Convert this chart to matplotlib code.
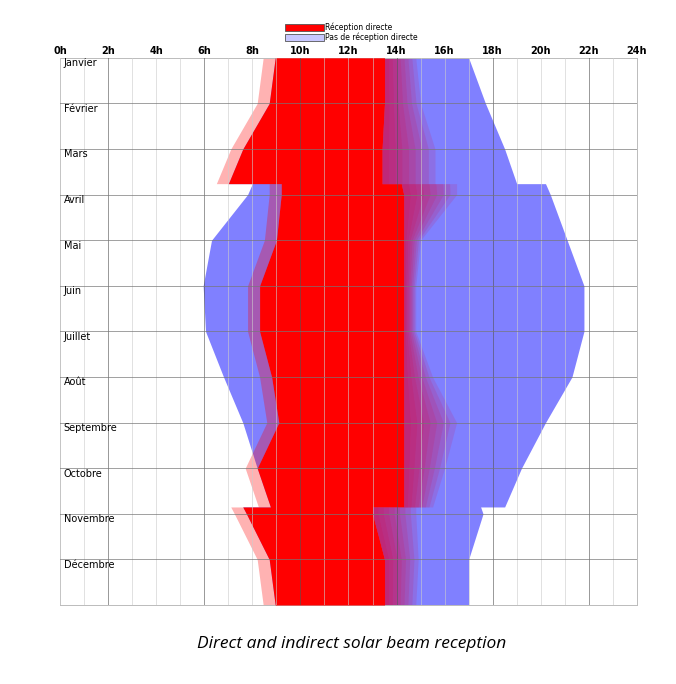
import matplotlib
matplotlib.use("Agg")
import matplotlib.pyplot as plt
import numpy as np
from matplotlib.patches import Patch

months = ["Janvier", "Février", "Mars", "Avril", "Mai", "Juin", "Juillet",
          "Août", "Septembre", "Octobre", "Novembre", "Décembre"]
# position in months (0 = 1 Jan, 12 = 31 Dec); duplicated values = clock change
ypos     = [0, 1, 2, 2.76, 2.76, 3, 4, 5, 6, 7, 8, 9, 9.85, 9.85, 10, 11, 12]
sunrise  = [8.95, 8.7, 7.6, 7.0, 8.0, 7.8, 6.3, 5.95, 6.05, 6.8, 7.6, 8.2, 8.75, 7.6, 7.75, 8.7, 8.95]
sunset   = [17.0, 17.7, 18.5, 19.0, 20.2, 20.4, 21.1, 21.8, 21.8, 21.3, 20.2, 19.2, 18.5, 17.5, 17.6, 17.0, 17.0]
red_start = [8.95, 8.7, 7.6, 7.0, 9.2, 9.2, 9.0, 8.3, 8.3, 8.8, 9.1, 8.2, 8.75, 7.6, 7.75, 8.7, 8.95]
red_end   = [13.5, 13.5, 13.4, 13.4, 14.2, 14.3, 14.3, 14.3, 14.3, 14.3, 14.3, 14.3, 14.3, 13.0, 13.0, 13.5, 13.5]
fade_end  = [14.8, 15.0, 15.6, 15.6, 16.5, 16.5, 15.0, 14.8, 14.8, 15.5, 16.5, 16.0, 15.5, 14.8, 14.8, 14.9, 14.8]
hour_labels = [f"{h}h" for h in range(0, 25, 2)]

BLUE = "#8080ff"
RED = "#ff0000"

fig = plt.figure(figsize=(6.76, 6.84), dpi=100)
ax = fig.add_axes([0.089, 0.1155, 0.853, 0.8]) 

y = np.array(ypos)
ax.fill_betweenx(y, sunrise, sunset, color=BLUE, lw=0, zorder=1)
# left fade in summer
rs = np.array(red_start)
ax.fill_betweenx(y, rs - 0.5, rs, color=RED, alpha=0.3, lw=0, zorder=2,
                 where=(rs - 0.5) > np.array(sunrise) - 10)
ax.fill_betweenx(y, rs, red_end, color=RED, lw=0, zorder=3)
re = np.array(red_end); fe = np.array(fade_end)
n = 8
for k in range(n):
    ax.fill_betweenx(y, re, re + (fe - re) * (k + 1) / n, color="#e0003a",
                     alpha=0.13, lw=0, zorder=2)

ax.set_xlim(0, 24)
ax.set_ylim(12, 0)
ax.set_xticks(range(0, 25, 2))
ax.set_xticklabels(hour_labels, fontsize=7, fontweight="bold")
ax.xaxis.tick_top()
ax.tick_params(axis="x", length=0, pad=1)
ax.set_yticks([])
for h in range(0, 25):
    ax.axvline(h, color="#555555" if h % 4 == 2 else "#cccccc", lw=0.7, zorder=4, alpha=0.6)
for m in range(1, 12):
    ax.axhline(m, color="#777777", lw=0.7, zorder=4, alpha=0.7)
for i, name in enumerate(months):
    ax.text(0.15, i + 0.12, name, fontsize=7, va="center", ha="left", zorder=5)
for s in ax.spines.values():
    s.set_color("#bbbbbb"); s.set_linewidth(0.7)

handles = [Patch(facecolor=RED, edgecolor="#555555", lw=0.6, label="Réception directe"),
           Patch(facecolor="#c8c8ff", edgecolor="#555555", lw=0.6, label="Pas de réception directe")]
fig.legend(handles=handles, loc="center", bbox_to_anchor=(0.52, 0.953), fontsize=5.5,
           frameon=False, handlelength=5, handleheight=1.0, labelspacing=0.05,
           handletextpad=0.2, borderpad=0)

fig.text(0.52, 0.058, "Direct and indirect solar beam reception", ha="center",
         va="center", fontsize=12.5, style="italic", family="Open Sans")
fig.savefig("out.png", dpi=100)
